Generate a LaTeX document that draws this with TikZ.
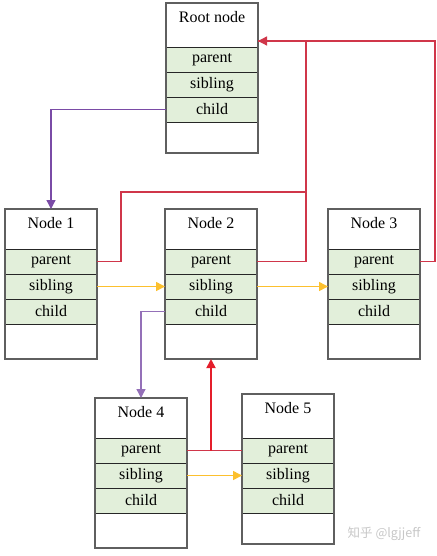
\documentclass[tikz,border=0pt]{standalone}
\usepackage{fontspec}
\setmainfont{Liberation Serif}
\newfontfamily\cjkwm{Noto Sans CJK SC}
\usetikzlibrary{arrows.meta,calc}
\definecolor{rowgreen}{HTML}{E2EFDA}
\definecolor{boxgray}{HTML}{5F5F5F}
\definecolor{linered}{HTML}{D0364A}
\definecolor{brightred}{HTML}{E41E2B}
\definecolor{linepurple}{HTML}{7A4BA6}
\definecolor{lightpurple}{HTML}{9470B8}
\definecolor{lineyellow}{HTML}{FCC02E}
\tikzset{
  cellbox/.style={draw=black!85, line width=0.9pt, fill=rowgreen, minimum width=92pt, minimum height=25pt, inner sep=0pt, outer sep=0pt, anchor=north west, font=\fontsize{16}{18}\selectfont},
  framebox/.style={draw=boxgray, line width=1.3pt, fill=white, minimum width=92pt, inner sep=0pt, outer sep=0pt, anchor=north west},
  titletext/.style={font=\fontsize{16}{18}\selectfont, inner sep=0pt},
  tip/.style={-{Triangle[length=9pt,width=9pt]}},
  redlink/.style={draw=linered, line width=1.3pt},
  purplelink/.style={draw=linepurple, line width=1.3pt, tip},
  yellowlink/.style={draw=lineyellow, line width=1.5pt, tip},
}
% #1 name, #2 left x, #3 top y, #4 title height, #5 bottom height, #6 title
\newcommand\recbox[6]{%
  \pgfmathsetmacro\rbTot{#4+75+#5}%
  \node[framebox, minimum height=\rbTot pt] (#1) at (#2,#3) {};
  \node[framebox, draw=none, fill=none, minimum height=#4pt] (#1t) at (#2,#3) {};
  \node[titletext] (#1l) at ($(#2,#3)+(46,14)$) {#6};
  \node[cellbox] (#1p) at ($(#2,#3)+(0,#4)$) {parent};
  \node[cellbox] (#1s) at ($(#2,#3)+(0,#4+25)$) {sibling};
  \node[cellbox] (#1c) at ($(#2,#3)+(0,#4+50)$) {child};
  \node[framebox, draw=none, fill=none, minimum height=#5pt] (#1b) at ($(#2,#3)+(0,#4+75)$) {};
  \draw[draw=boxgray, line width=1.3pt] (#1.north west) rectangle (#1.south east);
}
\begin{document}
\begin{tikzpicture}[x=1pt,y=-1pt]
\useasboundingbox (0,0) rectangle (436,556);
\recbox{r}{166}{3}{44}{31}{Root node}
\recbox{na}{5}{209}{40}{35}{Node 1}
\recbox{nb}{165}{209}{40}{35}{Node 2}
\recbox{nc}{328}{209}{40}{35}{Node 3}
\recbox{nd}{95}{398}{40}{35}{Node 4}
\recbox{ne}{242}{394}{44}{31}{Node 5}

\coordinate (rin) at (258,41);
\coordinate (cTR) at (435,41);
\coordinate (cTM) at (306,41);
\coordinate (cA) at (121,192);
\coordinate (cB) at (306,192);

% red parent links
\draw[redlink, tip] (ncp.east) -| (cTR) -- (rin);
\draw[redlink] (nbp.east) -| (cTM) -- (rin);
\draw[redlink] (nap.east) -| (cA) -- (cB);
\draw[redlink] (ndp.east) -- (nep.west);
\draw[draw=brightred, line width=1.8pt, tip] (nbb.south |- ndp.east) -- (nbb.south);

% purple child links
\draw[purplelink] (rc.west) -| (nat.north);
\draw[purplelink, draw=lightpurple] (nbc.west) -| (ndt.north);

% yellow sibling links
\draw[yellowlink] (nas.east) -- (nbs.west);
\draw[yellowlink] (nbs.east) -- (ncs.west);
\draw[yellowlink] (nds.east) -- (nes.west);

\node[font=\cjkwm\fontsize{12.5}{14}\selectfont, text=black!22, inner sep=0pt] (wm) at (384,534) {知乎 @lgjjeff};
\end{tikzpicture}
\end{document}
